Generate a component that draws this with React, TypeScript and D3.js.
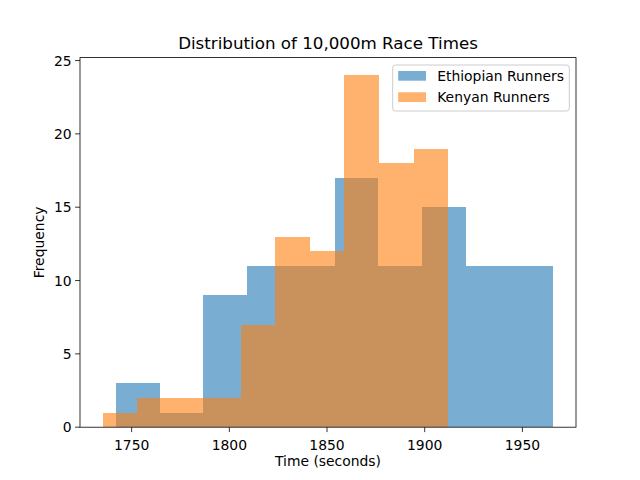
import React from "react";
import * as d3 from "d3";

const width = 640;
const height = 480;
const margin = { top: 57.6, right: 64, bottom: 52.8, left: 80 };

// histogram bins (10 bins each)
const ethiopianEdges = [1741.9, 1764.3, 1786.7, 1809.1, 1831.5, 1853.9, 1876.3, 1898.7, 1921.1, 1943.5, 1965.9];
const ethiopianCounts = [3, 1, 9, 11, 11, 17, 11, 15, 11, 11];
const kenyanEdges = [1735.1, 1752.8, 1770.5, 1788.2, 1805.9, 1823.6, 1841.2, 1858.9, 1876.6, 1894.3, 1912.0];
const kenyanCounts = [1, 2, 2, 2, 7, 13, 12, 24, 18, 19];

const xTicks = [1750, 1800, 1850, 1900, 1950];
const yTicks = [0, 5, 10, 15, 20, 25];

const series = [
  { name: "Ethiopian Runners", edges: ethiopianEdges, counts: ethiopianCounts, color: "#1f77b4" },
  { name: "Kenyan Runners", edges: kenyanEdges, counts: kenyanCounts, color: "#ff7f0e" },
];

const font = "DejaVu Sans, sans-serif";

const App = () => {
  const iw = width - margin.left - margin.right;
  const ih = height - margin.top - margin.bottom;

  const lo = d3.min(series, (s) => s.edges[0]) as number;
  const hi = d3.max(series, (s) => s.edges[s.edges.length - 1]) as number;
  const pad = (hi - lo) * 0.05;
  const x = d3.scaleLinear().domain([lo - pad, hi + pad]).range([0, iw]);

  const yMax = (d3.max(series, (s) => d3.max(s.counts)) as number) * 1.05;
  const y = d3.scaleLinear().domain([0, yMax]).range([ih, 0]);

  return (
    <svg width={width} height={height} style={{ display: "block", position: "absolute", left: 0, top: 0 }}>
      <rect width={width} height={height} fill="white" />
      <g transform={`translate(${margin.left},${margin.top})`}>
        {series.map((s) => (
          <g key={s.name} shapeRendering="crispEdges">
            {s.counts.map((c, i) => (
              <rect
                key={i}
                x={x(s.edges[i])}
                y={y(c)}
                width={x(s.edges[i + 1]) - x(s.edges[i])}
                height={y(0) - y(c)}
                fill={s.color}
                fillOpacity={0.6}
              />
            ))}
          </g>
        ))}

        <rect x={0} y={0} width={iw} height={ih} fill="none" stroke="black" strokeWidth={0.8} />

        {xTicks.map((t) => (
          <g key={t} transform={`translate(${x(t)},${ih})`}>
            <line y2={4.9} stroke="black" strokeWidth={0.8} />
            <text y={19} textAnchor="middle" fontFamily={font} fontSize={13.9} dominantBaseline="middle">
              {t}
            </text>
          </g>
        ))}
        {yTicks.map((t) => (
          <g key={t} transform={`translate(0,${y(t)})`}>
            <line x2={-4.9} stroke="black" strokeWidth={0.8} />
            <text x={-8.3} textAnchor="end" fontFamily={font} fontSize={13.9} dominantBaseline="central">
              {t}
            </text>
          </g>
        ))}

        <text x={iw / 2} y={-8.3} textAnchor="middle" fontFamily={font} fontSize={16.7}>
          Distribution of 10,000m Race Times
        </text>
        <text x={iw / 2} y={ih + 39} textAnchor="middle" fontFamily={font} fontSize={13.9}>
          Time (seconds)
        </text>
        <text
          transform={`translate(${-36},${ih / 2}) rotate(-90)`}
          textAnchor="middle"
          fontFamily={font}
          fontSize={13.9}
        >
          Frequency
        </text>

        <g transform={`translate(${iw - 183.3},${7.4})`}>
          <rect width={176.6} height={46} rx={2.8} fill="white" fillOpacity={0.8} stroke="#cccccc" strokeWidth={1} />
          {series.map((s, i) => (
            <g key={s.name} transform={`translate(5.5,${6 + i * 21.3})`}>
              <rect width={27.8} height={9.7} fill={s.color} fillOpacity={0.6} />
              <text x={39} y={5} fontFamily={font} fontSize={13.9} dominantBaseline="central">
                {s.name}
              </text>
            </g>
          ))}
        </g>
      </g>
    </svg>
  );
};

export default App;
